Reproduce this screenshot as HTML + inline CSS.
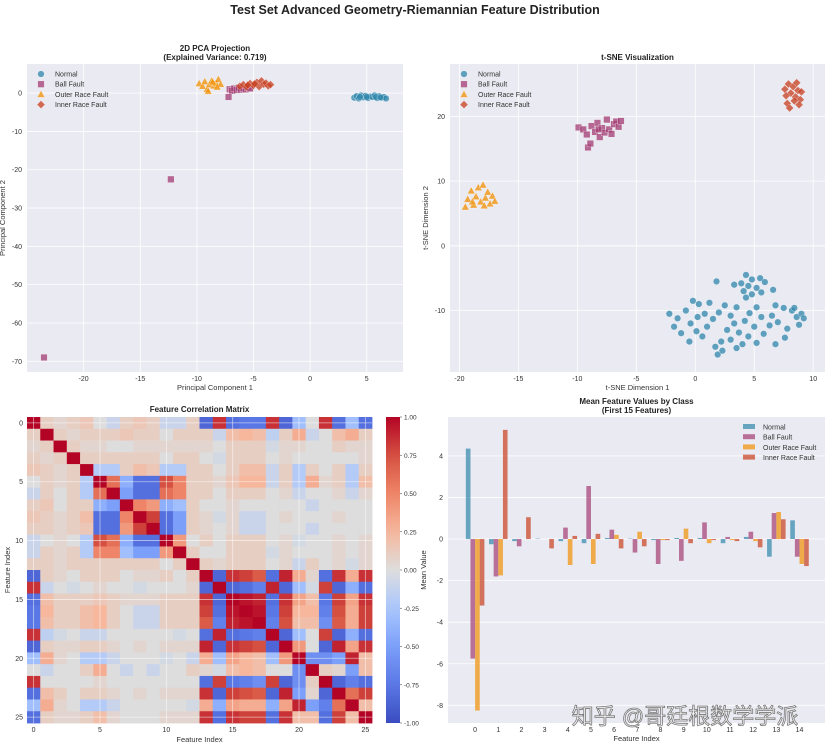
<!DOCTYPE html>
<html><head><meta charset="utf-8"><style>
body{margin:0;background:#fff;}
svg{display:block;font-family:"Liberation Sans","Noto Sans CJK SC",sans-serif;}
</style></head><body>
<svg id="fig" width="830" height="748" viewBox="0 0 830 748">
<text x="415" y="14" text-anchor="middle" font-size="12.5" font-weight="bold" fill="#222">Test Set Advanced Geometry-Riemannian Feature Distribution</text>
</svg>
<script>
// ---------- DATA ----------
const classNames = ["Normal","Ball Fault","Outer Race Fault","Inner Race Fault"];
const pcaNormal = [[3.9,-1.2],[4.1,-0.8],[4.3,-1.4],[4.5,-0.6],[4.7,-1.1],[4.9,-0.7],[5.1,-1.3],[5.3,-0.9],[5.5,-1.0],[5.7,-0.6],[5.9,-1.3],[6.1,-0.8],[6.3,-1.2],[6.5,-1.0],[6.7,-1.4],[4.4,-1.0],[5.0,-1.0],[5.8,-1.0],[6.2,-1.1]];
const pcaBall = [[-7.1,1.0],[-6.9,0.6],[-6.7,1.2],[-6.5,0.8],[-6.3,1.4],[-6.1,0.9],[-5.9,1.3],[-5.7,1.0],[-5.5,1.5],[-5.3,1.2],[-7.2,-1.0],[-12.3,-22.5],[-23.5,-69]];
const pcaOuter = [[-9.8,2.5],[-9.5,1.8],[-9.3,3.0],[-9.1,1.0],[-8.9,2.2],[-8.7,3.2],[-8.5,1.9],[-8.3,2.6],[-8.1,3.6],[-7.9,2.3],[-9.0,0.5],[-8.6,2.9],[-8.2,1.6]];
const pcaInner = [[-6.2,1.8],[-5.9,2.2],[-5.6,1.6],[-5.3,2.5],[-5.0,2.0],[-4.7,2.8],[-4.5,1.7],[-4.3,3.2],[-4.1,2.3],[-3.9,2.6],[-3.7,1.9],[-3.5,2.2],[-4.9,2.4],[-5.5,2.1]];
const pcaXTicks = [-20,-15,-10,-5,0,5];
const pcaYTicks = [0,-10,-20,-30,-40,-50,-60,-70];

const tsneNormal = [[4.3,-4.5],[4.8,-5.2],[5.5,-5.0],[3.9,-5.8],[4.5,-6.2],[5.2,-6.5],[5.9,-5.6],[4.1,-7.0],[4.8,-7.5],[5.6,-7.2],[6.6,-6.8],[3.3,-6.0],[1.8,-5.5],[4.3,-8.0],
[-2.2,-10.5],[-1.5,-11.2],[-0.8,-10.0],[-0.2,-8.5],[0.3,-9.0],[0.8,-10.5],[1.2,-8.8],[-1.8,-12.5],[-1.2,-13.5],[-0.4,-12.0],[0.1,-13.2],[0.6,-14.0],[1.0,-12.5],[1.5,-11.3],[2.0,-10.3],[2.5,-9.2],[3.0,-10.8],[3.3,-12.0],[2.7,-13.0],[2.2,-14.8],[1.7,-15.6],[1.9,-16.8],[2.3,-16.2],[3.0,-14.5],[3.5,-15.8],[4.0,-15.2],[3.7,-13.4],[4.2,-11.6],[4.6,-10.4],[5.2,-9.5],[5.6,-11.0],[5.0,-12.5],[4.5,-14.0],[5.2,-15.0],[5.8,-13.6],[6.3,-12.3],[6.8,-9.2],[6.5,-10.8],[7.0,-11.8],[7.5,-9.6],[7.8,-12.8],[8.2,-10.0],[8.6,-11.0],[9.0,-10.5],[9.2,-11.2],[8.8,-12.2],[6.8,-15.2],[7.6,-14.2],[8.4,-9.6],[-0.5,-14.8],[0.2,-11.0],[3.5,-9.5]];
const tsneBall = [[-9.9,18.3],[-9.5,18.0],[-9.2,17.2],[-8.8,18.5],[-8.5,17.6],[-8.3,19.0],[-8.1,16.8],[-7.9,18.2],[-7.7,17.5],[-7.5,19.5],[-7.3,18.0],[-7.1,17.3],[-6.9,18.8],[-6.7,19.2],[-6.5,18.4],[-6.3,19.3],[-9.1,15.2],[-8.9,15.8],[-8.2,18.0]];
const tsneOuter = [[-19.5,6.0],[-19.3,7.2],[-19.0,8.5],[-18.8,6.3],[-18.6,7.6],[-18.4,9.0],[-18.2,6.8],[-18.0,9.4],[-17.8,7.4],[-17.6,8.3],[-17.4,6.5],[-17.2,7.7],[-17.0,6.9],[-18.9,6.8],[-17.9,6.2]];
const tsneInner = [[7.6,24.2],[7.9,25.0],[8.1,23.6],[8.3,24.6],[8.5,23.0],[8.7,24.0],[8.9,22.6],[9.0,23.8],[7.8,22.0],[8.0,21.3],[8.4,22.4],[7.7,23.2],[8.6,25.2],[8.8,21.8]];
const tsneXTicks = [-20,-15,-10,-5,0,5,10];
const tsneYTicks = [20,10,0,-10];

// lower triangle of correlation matrix (row i, columns 0..i-1); diagonal = 1
const corrLower = [
[],
[0.1],
[0.05,0.1],
[0.1,0.05,0.1],
[0.15,0.1,0.05,0.1],
[0.0,0.1,0.05,0.1,-0.2],
[-0.1,0.1,0.0,0.1,-0.2,0.6],
[0.1,0.15,0.0,0.1,0.1,-0.4,-0.5],
[0.15,0.1,0.05,0.1,0.2,-0.8,-0.8,0.5],
[0.1,0.1,0.05,0.1,0.15,-0.8,-0.8,0.4,0.8],
[-0.1,0.0,0.05,0.0,-0.2,0.75,0.6,-0.4,-0.8,-0.8],
[-0.1,0.1,0.05,0.1,-0.2,0.5,0.5,-0.3,-0.5,-0.5,0.4],
[0.1,0.1,0.05,0.1,0.1,0.1,0.1,0.1,0.1,0.1,0.0,0.1],
[-0.85,0.1,0.05,0.0,0.1,0.1,0.1,0.0,0.05,0.05,0.1,0.0,0.1],
[0.85,-0.1,0.0,-0.05,0.0,0.05,0.0,0.0,-0.05,0.0,0.0,0.0,0.05,-0.85],
[-0.8,0.2,0.1,0.1,0.1,0.15,0.1,0.05,0.05,0.05,0.1,0.1,0.1,0.85,-0.85],
[-0.75,0.25,0.1,0.1,0.2,0.25,0.1,0.0,-0.1,-0.1,0.1,0.1,0.1,0.8,-0.8,0.95],
[-0.75,0.2,0.1,0.1,0.2,0.25,0.1,0.0,-0.1,-0.1,0.1,0.1,0.1,0.7,-0.7,0.9,0.95],
[0.85,-0.15,-0.05,0.0,-0.1,-0.1,0.0,0.0,0.0,0.0,0.0,-0.05,0.0,-0.8,0.9,-0.8,-0.75,-0.7],
[-0.85,0.1,0.05,0.05,0.1,0.1,0.05,0.0,0.05,0.0,0.05,0.05,0.05,0.9,-0.85,0.85,0.8,0.75,-0.85],
[-0.3,0.3,0.05,0.0,-0.2,-0.2,-0.1,0.0,0.0,0.0,-0.05,0.0,-0.1,0.3,-0.3,0.35,0.25,0.2,-0.3,0.4],
[0.0,-0.1,0.0,0.0,0.1,0.3,0.0,-0.1,0.0,-0.1,0.0,0.0,0.1,0.05,-0.05,0.2,0.25,0.2,0.0,0.0,-0.6],
[0.85,0.0,0.0,0.0,0.0,0.05,0.0,0.0,0.0,0.0,0.0,0.0,0.0,-0.8,0.8,-0.75,-0.7,-0.6,0.8,-0.85,-0.6,0.1],
[-0.8,0.2,0.1,0.0,0.1,0.1,0.05,0.0,0.05,0.0,0.05,0.05,0.05,0.85,-0.85,0.8,0.75,0.7,-0.85,0.9,-0.5,0.05,-0.85],
[-0.3,0.3,0.05,0.0,-0.2,-0.2,-0.1,0.0,0.0,0.0,0.0,0.0,-0.05,0.3,-0.4,0.35,0.3,0.3,-0.4,0.35,0.9,-0.5,-0.7,0.6],
[-0.8,0.1,0.05,0.05,0.1,0.2,0.05,0.0,0.0,0.0,0.05,0.05,0.05,0.85,-0.8,0.85,0.8,0.8,-0.8,0.85,0.2,0.2,-0.8,0.8,0.2]
];
const corrTicks = [0,5,10,15,20,25];
const cbarTicks = [1.00,0.75,0.50,0.25,0.00,-0.25,-0.50,-0.75,-1.00];

const barFeatures = [0,1,2,3,4,5,6,7,8,9,10,11,12,13,14];
const barNormal = [4.35,-0.25,-0.1,0.02,-0.1,-0.2,0.05,0.02,-0.05,0.05,0.05,-0.2,0.1,-0.85,0.9];
const barBall = [-5.75,-1.8,-0.35,0.0,0.55,2.55,0.45,-0.65,-1.2,-1.05,0.8,0.1,0.35,1.25,-0.85];
const barOuter = [-8.25,-1.75,0.0,0.0,-1.25,-1.2,0.2,0.35,-0.05,0.5,-0.2,-0.05,-0.1,1.3,-1.2];
const barInner = [-3.2,5.25,1.05,-0.45,0.15,0.25,-0.45,-0.35,-0.05,-0.2,-0.05,-0.1,-0.4,0.95,-1.3];
const barYTicks = [4,2,0,-2,-4,-6,-8];

// ---------- DRAWING ----------
const NS = "http://www.w3.org/2000/svg";
const svg = document.getElementById("fig");
const COLORS = ["#2E86AB","#A23B72","#F18F01","#C73E1D"];
function mk(tag, attrs, parent){
  const e = document.createElementNS(NS, tag);
  for (const k in attrs) e.setAttribute(k, attrs[k]);
  (parent||svg).appendChild(e); return e;
}
function txt(x,y,s,size,anchor,extra,parent){
  const t = mk("text", Object.assign({x:x,y:y,"font-size":size,"text-anchor":anchor||"middle",fill:"#333"}, extra||{}), parent);
  t.textContent = s; return t;
}
function lin(d0,d1,r0,r1){ return v => r0 + (v-d0)/(d1-d0)*(r1-r0); }

function marker(g, kind, x, y, color){
  let e;
  if (kind===0) e = mk("circle",{cx:x,cy:y,r:3.3},g);
  else if (kind===1) e = mk("rect",{x:x-3.3,y:y-3.3,width:6.6,height:6.6},g);
  else if (kind===2) e = mk("polygon",{points:`${x},${y-4} ${x-3.8},${y+3} ${x+3.8},${y+3}`},g);
  else e = mk("polygon",{points:`${x},${y-4} ${x+4},${y} ${x},${y+4} ${x-4},${y}`},g);
  e.setAttribute("fill", color); e.setAttribute("fill-opacity","0.75");
  e.setAttribute("stroke","#fff"); e.setAttribute("stroke-width","0.3");
  return e;
}

function axesFrame(name, L,T,R,B, sx, sy, xt, yt, title, xl, yl){
  const g = mk("g",{});
  
  
  mk("rect",{x:L,y:T,width:R-L,height:B-T,fill:"#eaeaf2"},g);
  xt.forEach(v=>{ const x=sx(v); mk("line",{x1:x,x2:x,y1:T,y2:B,stroke:"#fff","stroke-width":0.8},g);
    const t=txt(x,B+9,String(v),7,"middle",{},g);
      });
  yt.forEach(v=>{ const y=sy(v); mk("line",{x1:L,x2:R,y1:y,y2:y,stroke:"#fff","stroke-width":0.8},g);
    const t=txt(L-5,y+2.5,String(v),7,"end",{},g);
      });
  if (title){ title.forEach((s,i)=>{ const t=txt((L+R)/2, T-13+i*9 + (title.length===1?9:0), s, 8, "middle", {"font-weight":"bold",fill:"#222"}, g);
      }); }
  const xlab = txt((L+R)/2, B+18, xl, 7.5, "middle", {}, g);
   
  const yx = L-22, yy=(T+B)/2;
  const ylab = txt(yx, yy, yl, 7.5, "middle", {transform:`rotate(-90 ${yx} ${yy})`}, g);
   
  return g;
}

function scatterLegend(L,T){
  const g = mk("g",{});
  
  
  classNames.forEach((n,i)=>{
    const y=T+10+i*10.2;
    marker(g,i,L+14,y,COLORS[i]);
    const t=txt(L+28,y+2.5,n,7,"start",{},g);
     
  });
}

function scatterPanel(name, L,T,R,B,xd,yd,xt,yt,title,xl,yl,sets){
  const sx=lin(xd[0],xd[1],L,R), sy=lin(yd[0],yd[1],B,T);
  axesFrame(name,L,T,R,B,sx,sy,xt,yt,title,xl,yl);
  sets.forEach((pts,k)=>{
    const g = mk("g",{});
    
    
    pts.forEach(p=>{ const m = marker(g,k,sx(p[0]),sy(p[1]),COLORS[k]);
        });
  });
  scatterLegend(L,T);
}

scatterPanel("pca-panel",27,64,403,372,[-25.0,8.2],[-72.8,7.6],pcaXTicks,pcaYTicks,
  ["2D PCA Projection","(Explained Variance: 0.719)"],"Principal Component 1","Principal Component 2",
  [pcaNormal,pcaBall,pcaOuter,pcaInner]);
scatterPanel("tsne-panel",450,64,825,372,[-20.8,11.0],[-19.5,28.1],tsneXTicks,tsneYTicks,
  ["t-SNE Visualization"],"t-SNE Dimension 1","t-SNE Dimension 2",
  [tsneNormal,tsneBall,tsneOuter,tsneInner]);

// ----- correlation heatmap -----
const stops=[[0,[59,76,192]],[0.125,[90,120,229]],[0.25,[124,159,249]],[0.375,[170,199,253]],[0.5,[221,221,221]],[0.625,[246,183,156]],[0.75,[238,133,104]],[0.875,[213,80,64]],[1,[180,4,38]]];
function cw(v){ const t=Math.max(0,Math.min(1,(v+1)/2));
  for(let i=1;i<stops.length;i++){ if(t<=stops[i][0]){ const a=stops[i-1],b=stops[i],f=(t-a[0])/(b[0]-a[0]);
    const c=a[1].map((x,j)=>Math.round(x+(b[1][j]-x)*f)); return `rgb(${c[0]},${c[1]},${c[2]})`; } }
  return "rgb(180,4,38)"; }
(function(){
  const n = corrLower.length, L=27,T=417,R=372,B=723, cwid=(R-L)/n, chgt=(B-T)/n;
  const g = mk("g",{});
  
  
  function val(i,j){ if(i===j) return 1; return i>j?corrLower[i][j]:corrLower[j][i]; }
  for(let i=0;i<n;i++) for(let j=0;j<n;j++){
    const r = mk("rect",{x:L+j*cwid,y:T+i*chgt,width:cwid+0.4,height:chgt+0.4,fill:cw(val(i,j))},g);
     
  }
  corrTicks.forEach(v=>{
    const x=L+(v+0.5)*cwid, y=T+(v+0.5)*chgt;
    mk("line",{x1:x,x2:x,y1:T,y2:B,stroke:"#fff","stroke-opacity":0.6,"stroke-width":0.8},g);
    mk("line",{x1:L,x2:R,y1:y,y2:y,stroke:"#fff","stroke-opacity":0.6,"stroke-width":0.8},g);
    const a=txt(x,B+9,String(v),7,"middle",{},g);  
    const b=txt(L-4,y+2.5,String(v),7,"end",{},g);  
  });
  const tt=txt((L+R)/2,412,"Feature Correlation Matrix",8,"middle",{"font-weight":"bold",fill:"#222"},g);
   
  const xl=txt((L+R)/2,742,"Feature Index",7.5,"middle",{},g);
   
  const yl=txt(10,570,"Feature Index",7.5,"middle",{transform:"rotate(-90 10 570)"},g);
   
  // colorbar
  const cb = mk("g",{});
  
  
  const defs=mk("defs",{},cb);
  const lg=mk("linearGradient",{id:"cwg",x1:0,y1:1,x2:0,y2:0},defs);
  for(let k=0;k<=20;k++){ const v=-1+k/10; mk("stop",{offset:(k/20),"stop-color":cw(v)},lg); }
  mk("rect",{x:386,y:417,width:14,height:306,fill:"url(#cwg)"},cb);
  const cs=lin(-1,1,723,417);
  cbarTicks.forEach(v=>{ const y=cs(v); mk("line",{x1:400,x2:402,y1:y,y2:y,stroke:"#555","stroke-width":0.6},cb);
    const t=txt(404,y+2.5,v.toFixed(2),6.5,"start",{},cb);
      });
})();

// ----- bar chart -----
(function(){
  const L=448,T=417,R=825,B=723;
  const sx=lin(-1.17,15.1,L,R), sy=lin(-8.85,5.87,B,T);
  axesFrame("bar-panel",L,T,R,B,sx,sy,[],barYTicks,["Mean Feature Values by Class","(First 15 Features)"],"Feature Index","Mean Value");
  barFeatures.forEach(f=>{ const t=txt(sx(f),B+9,String(f),7,"middle",{});
      });
  const series=[barNormal,barBall,barOuter,barInner], w=0.2;
  series.forEach((vals,k)=>{
    const g = mk("g",{});
    
    
    vals.forEach((v,i)=>{
      const c = barFeatures[i] + (k-1.5)*w;
      const x0=sx(c-w/2), x1=sx(c+w/2), y0=sy(0), y1=sy(v);
      const r = mk("rect",{x:x0,y:Math.min(y0,y1),width:x1-x0,height:Math.abs(y1-y0),fill:COLORS[k],"fill-opacity":0.7},g);
       
    });
  });
  const lgd = mk("g",{});
  
  
  classNames.forEach((n,i)=>{ const y=T+10+i*10.2;
    mk("rect",{x:743,y:y-3,width:12,height:5,fill:COLORS[i],"fill-opacity":0.7},lgd);
    const t=txt(763,y+2.5,n,7,"start",{},lgd);
      });
})();

// watermark
const wm = txt(685,724,"知乎 @哥廷根数学学派",22,"middle",{fill:"#fff",stroke:"#777","stroke-width":0.8,"fill-opacity":0.85});


</script>
</body></html>
